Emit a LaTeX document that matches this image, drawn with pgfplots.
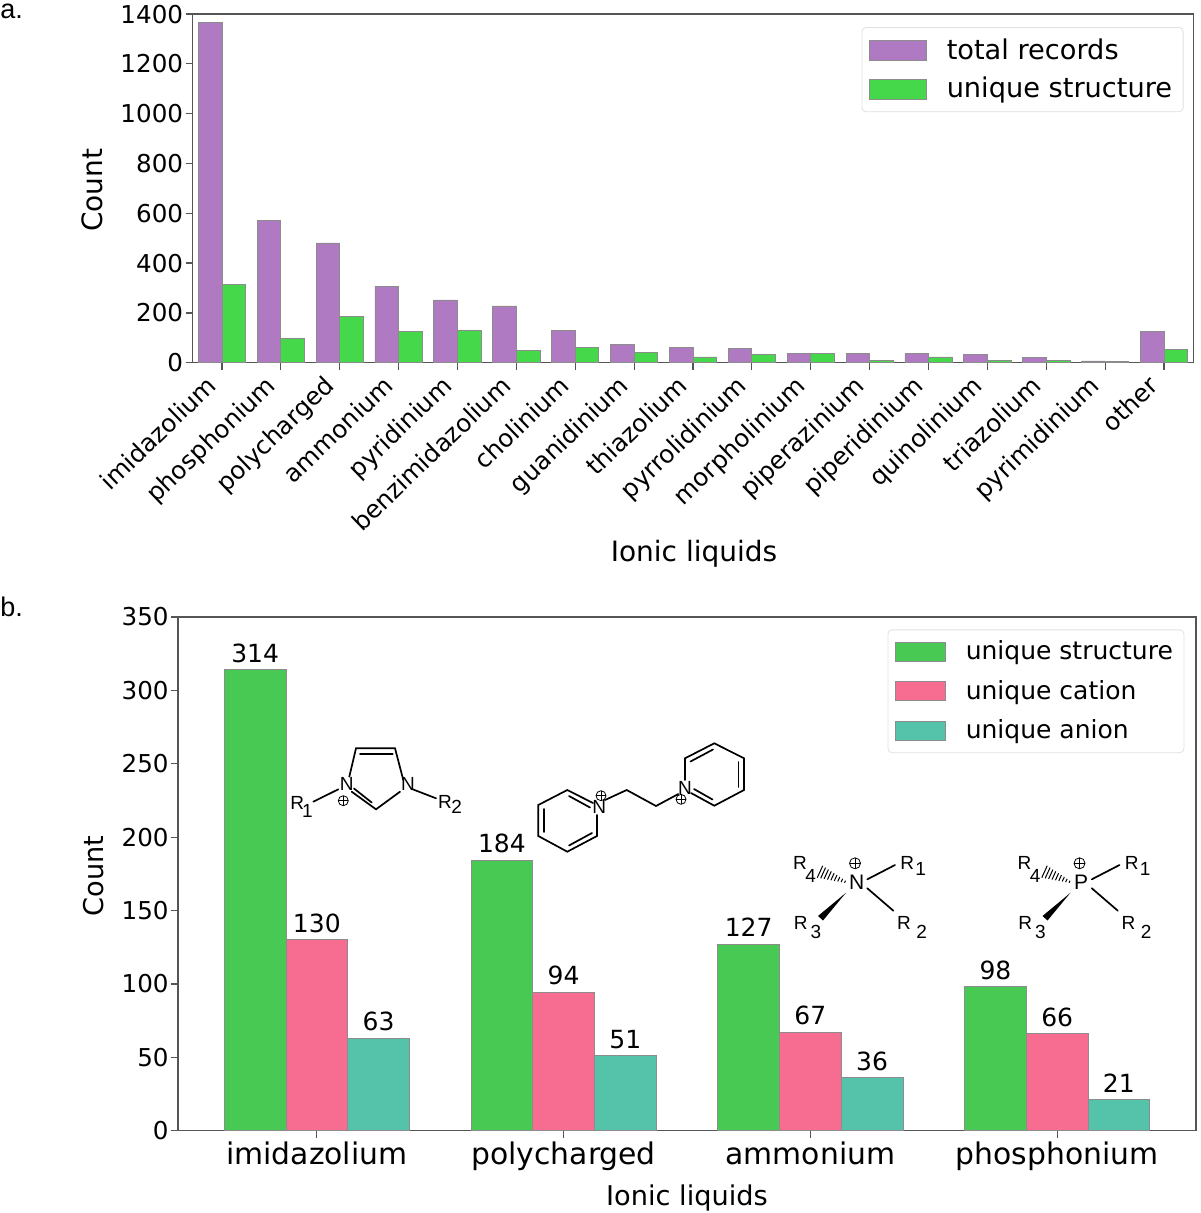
\documentclass[border=0pt]{standalone}
\usepackage{fontspec}
\setmainfont{DejaVu Sans}
\newfontfamily\chemfont{Liberation Sans}
\usepackage{pgfplots}
\usepackage{pgfplotstable}
\pgfplotsset{compat=1.18}

\definecolor{cpurple}{HTML}{B07AC2}
\definecolor{cgreenA}{HTML}{45D84A}
\definecolor{cgreenB}{HTML}{48C954}
\definecolor{cpink}{HTML}{F76D91}
\definecolor{cteal}{HTML}{54C3A9}
\definecolor{cframe}{HTML}{555555}
\definecolor{cedge}{HTML}{8C8C8C}

\pgfplotstableread{
idx total unique
0 1367 314
1 570 98
2 481 184
3 308 127
4 252 130
5 228 50
6 131 63
7 75 40
8 63 23
9 59 32
10 36 36
11 36 9
12 36 23
13 32 9
14 20 9
15 7 4
16 127 54
}\tablea

\pgfplotstableread{
idx structure cation anion
0 314 130 63
1 184 94 51
2 127 67 36
3 98 66 21
}\tableb

\pgfplotsset{
  common/.style={
    scale only axis,
    axis line style={cframe,line width=0.7pt},
    tick style={cframe,line width=0.6pt},
    major tick length=3.5pt,
    tick align=outside,
    xtick pos=lower, ytick pos=left,
    /pgf/number format/assume math mode=true,
    /pgf/number format/1000 sep={},
    ymin=0,
    ybar,
    legend cell align=left,
    legend style={rounded corners=2pt,draw=black!12,fill=white,anchor=north east,inner xsep=3.5pt,inner ysep=3.5pt},
  },
  lega/.style={legend image code/.code={\draw[##1,line width=0.4pt,sharp corners] (0pt,-5pt) rectangle (28.5pt,5pt);}},
  legb/.style={legend image code/.code={\draw[##1,line width=0.4pt,sharp corners] (0pt,-4.8pt) rectangle (25pt,4.8pt);}},
}

\begin{document}
\begin{tikzpicture}[x=0.5pt,y=-0.5pt]
\useasboundingbox (0,0) rectangle (1200,1213);

\begin{axis}[common,
  at={(96.25pt,-181.35pt)},anchor=south west,
  width=500.5pt,height=174.3pt,
  xmin=-0.5,xmax=16.5,ymax=1400,
  ytick distance=200,
  xtick={0,...,16},
  xticklabels={imidazolium,phosphonium,polycharged,ammonium,pyridinium,benzimidazolium,cholinium,guanidinium,thiazolium,pyrrolidinium,morpholinium,piperazinium,piperidinium,quinolinium,triazolium,pyrimidinium,other},
  xticklabel style={font=\fontsize{12.3}{14}\selectfont,rotate=44,anchor=north east,inner sep=0pt,xshift=-7.5pt,yshift=4.5pt},
  yticklabel style={font=\fontsize{12.3}{14}\selectfont,inner sep=1pt},
  xlabel={Ionic liquids},ylabel={Count},
  xlabel style={font=\fontsize{14}{16}\selectfont,at={(axis description cs:0.501,-0.549)},anchor=center},
  ylabel style={font=\fontsize{14}{16}\selectfont,at={(axis description cs:-0.1004,0.495)},anchor=center},
  legend style={at={(0.99,0.9627)},font=\fontsize{13.6}{16}\selectfont,row sep=3.5pt,
    /tikz/every odd column/.append style={column sep=8pt}},
  bar width=11.8pt,
]
\addplot[draw=cedge,fill=cpurple,line width=0.4pt,bar shift=-5.9pt,lega]
  table[x=idx,y=total] {\tablea};
\addplot[draw=cedge,fill=cgreenA,line width=0.4pt,bar shift=5.9pt,lega]
  table[x=idx,y=unique] {\tablea};
\legend{total records,unique structure}
\end{axis}

\begin{axis}[common,
  at={(89pt,-565.35pt)},anchor=south west,
  width=509pt,height=256.9pt,
  xmin=-0.5625,xmax=3.5625,ymax=350,
  ytick distance=50,
  xtick={0,1,2,3},
  xticklabels={imidazolium,polycharged,ammonium,phosphonium},
  xticklabel style={font=\fontsize{14.9}{16}\selectfont,inner sep=0pt,yshift=-2pt},
  yticklabel style={font=\fontsize{12.3}{14}\selectfont,inner sep=1pt},
  xlabel={Ionic liquids},ylabel={Count},
  xlabel style={font=\fontsize{13.6}{16}\selectfont,at={(axis description cs:0.5,-0.131)},anchor=center},
  ylabel style={font=\fontsize{13.6}{16}\selectfont,at={(axis description cs:-0.0825,0.4958)},anchor=center},
  legend style={at={(0.9885,0.9755)},font=\fontsize{12.5}{15}\selectfont,row sep=4.7pt,
    /tikz/every odd column/.append style={column sep=8pt}},
  bar width=30.85pt,
  nodes near coords,
  every node near coord/.append style={font=\fontsize{12.5}{14}\selectfont,text=black,inner sep=2pt,yshift=1.5pt},
]
\addplot[draw=cedge,fill=cgreenB,line width=0.4pt,bar shift=-30.85pt,legb]
  table[x=idx,y=structure] {\tableb};
\addplot[draw=cedge,fill=cpink,line width=0.4pt,bar shift=0pt,legb]
  table[x=idx,y=cation] {\tableb};
\addplot[draw=cedge,fill=cteal,line width=0.4pt,bar shift=30.85pt,legb]
  table[x=idx,y=anion] {\tableb};
\legend{unique structure,unique cation,unique anion}
\end{axis}

% panel letters
\node[font=\chemfont\fontsize{13.5}{15}\selectfont,anchor=base west,inner sep=0pt] at (0,19) {a.};
\node[font=\chemfont\fontsize{13.5}{15}\selectfont,anchor=base west,inner sep=0pt] at (0,616) {b.};

% structures
\tikzset{bond/.style={line width=0.85pt,black,line cap=round},
  atom/.style={font=\chemfont\fontsize{9.5}{10}\selectfont,inner sep=0pt,text=black},
  plus/.style={draw=black,line width=0.4pt,circle,minimum size=5pt,inner sep=0pt,
    path picture={\draw[black,line width=0.4pt] (path picture bounding box.west)--(path picture bounding box.east)
      (path picture bounding box.north)--(path picture bounding box.south);}}}

% imidazolium
\draw[bond] (349.3,776.7)--(356,748.3)--(395,748.3)--(403.3,780);
\draw[bond] (360,754)--(392.7,754);
\draw[bond] (400,791.7)--(376,809.3)--(351.7,791.7);
\draw[bond] (371.7,802.5)--(354,788.5);
\draw[bond] (313.3,801.7)--(338.3,789.3);
\draw[bond] (412.7,789.3)--(436,798.3);
\node[atom] at (346.7,783.5) {N};
\node[atom] at (408,783.5) {N};
\node[atom] at (297.3,803.3) {R};
\node[atom] at (307.5,811) {1};
\node[atom] at (445,801.7) {R};
\node[atom] at (456.7,807) {2};
\node[plus] at (343.3,800.7) {};

% bis-pyridinium
\draw[bond] (593,803)--(567.3,790)--(538.3,805)--(538.3,836)--(567.3,851.7)--(597,836)--(597,815);
\draw[bond] (544,809)--(544,832);
\draw[bond] (569,796)--(590,807.5);
\draw[bond] (569,845.5)--(592,833);
\draw[bond] (605,800)--(626.7,790)--(656,806)--(678.3,794);
\draw[bond] (685,780)--(685,758.3)--(714.3,743.3)--(744,758.3)--(744,790)--(714.3,805.7)--(691,793);
\draw[bond] (690.5,761.5)--(713,749.5);
\draw[bond] (738.5,762)--(738.5,787);
\draw[bond] (712.5,799.5)--(694,789);
\node[atom] at (599.3,806.5) {N};
\node[atom] at (685,788) {N};
\node[plus] at (601,795.7) {};
\node[plus] at (681,799.3) {};

% quaternary centres, same drawing twice
\foreach \dx/\c in {0/N,224.5/P} {
  \begin{scope}[xshift=\dx*0.5pt]
    \draw[bond] (867.3,879.3)--(895,865);
    \draw[bond] (867.3,888.3)--(893.3,910.7);
    \fill[black] (846,892.7)--(818,916)--(823,920.5)--cycle;
    \foreach \t in {0,0.125,...,1}
      \draw[black,line width=0.5pt] ({845-25*\t+1.6*(0.3+1.4*\t)},{881.7-10*\t-3.5*(0.3+1.4*\t)})--({845-25*\t-1.6*(0.3+1.4*\t)},{881.7-10*\t+3.5*(0.3+1.4*\t)});
    \node[atom,font=\chemfont\fontsize{10.5}{11}\selectfont] at (856.7,882.7) {\c};
    \node[plus,minimum size=5.5pt] at (855,863.3) {};
    \node[atom] at (907.3,862.7) {R};
    \node[atom] at (920.7,869.3) {1};
    \node[atom] at (904,923.3) {R};
    \node[atom] at (921.7,931.7) {2};
    \node[atom] at (800.7,923.3) {R};
    \node[atom] at (816,931.7) {3};
    \node[atom] at (800,862.7) {R};
    \node[atom] at (810.7,876) {4};
  \end{scope}
}
\end{tikzpicture}
\end{document}
